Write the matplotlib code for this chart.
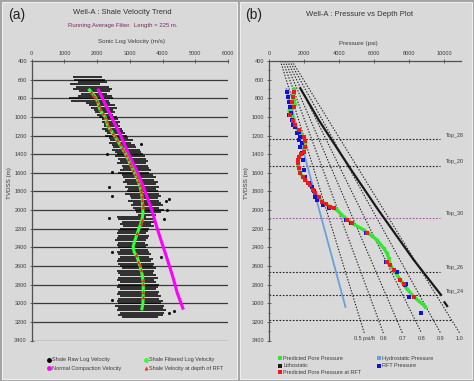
import numpy as np
import matplotlib
matplotlib.use('Agg')
import matplotlib.pyplot as plt
from matplotlib.lines import Line2D
from matplotlib.patches import Rectangle
from matplotlib.ticker import MultipleLocator

plt.rcParams['font.family'] = ['Liberation Sans', 'DejaVu Sans']

# ---------------- panel (a): shale velocity trend ----------------
# raw sonic log, read as horizontal spread per depth (m, m/s)
raw_depth = [575, 600, 625, 650, 675, 700, 725, 750, 775, 800, 825, 850, 875, 900, 925, 950, 975,
             1000, 1025, 1050, 1075, 1100, 1125, 1150, 1175, 1200, 1225, 1250, 1275, 1300, 1325,
             1350, 1375, 1400, 1425, 1450, 1475, 1500, 1525, 1550, 1575, 1600, 1625, 1650, 1675,
             1700, 1725, 1750, 1775, 1800, 1825, 1850, 1875, 1900, 1925, 1950, 1975, 2000, 2025,
             2050, 2075, 2100, 2125, 2150, 2175, 2200, 2225, 2250, 2275, 2300, 2325, 2350, 2375,
             2400, 2425, 2450, 2475, 2500, 2525, 2550, 2575, 2600, 2625, 2650, 2675, 2700, 2725,
             2750, 2775, 2800, 2825, 2850, 2875, 2900, 2925, 2950, 2975, 3000, 3025, 3050, 3075,
             3100, 3125, 3150]
raw_vmin = [1250, 1300, 1400, 1180, 1350, 1250, 1450, 1500, 1400, 1130, 1200, 1650, 1750, 1800, 1900,
            1950, 2000, 2050, 2150, 2150, 2200, 2200, 2150, 2250, 2300, 2250, 2350, 2400, 2350, 2450,
            2500, 2450, 2550, 2600, 2550, 2650, 2700, 2600, 2750, 2800, 2700, 2650, 2750, 2800, 2850,
            2800, 2900, 2850, 2950, 2900, 2850, 3000, 3050, 2950, 3100, 3050, 3100, 3150, 3200,
            3250, 2600, 2650, 2750, 2700, 2800, 2700, 2650, 2600, 2650, 2600, 2550, 2650, 2600,
            2650, 2700, 2600, 2650, 2700, 2650, 2600, 2650, 2700, 2750, 2600, 2650, 2700, 2650,
            2600, 2700, 2650, 2600, 2700, 2650, 2600, 2700, 2650, 2600, 2650, 2550, 2650, 2600,
            2700, 2650, 2750]
raw_vmax = [2150, 2250, 2300, 2100, 2350, 2450, 2380, 2300, 2450, 2500, 2350, 2400, 2550, 2600, 2500,
            2550, 2500, 2600, 2650, 2700, 2650, 2700, 2750, 2800, 2850, 2900, 2950, 3100, 3050, 3150,
            3200, 3300, 3350, 3400, 3450, 3500, 3550, 3500, 3550, 3600, 3650, 3600, 3700, 3800, 3750,
            3850, 3800, 3900, 3800, 3850, 3900, 3950, 3850, 3900, 3950, 4000, 3900, 4050, 3950,
            3800, 3500, 3700, 3800, 3650, 3750, 3600, 3550, 3500, 3600, 3550, 3500, 3450, 3550,
            3500, 3550, 3600, 3650, 3600, 3700, 3650, 3750, 3700, 3800, 3750, 3700, 3800, 3850,
            3750, 3800, 3900, 3850, 3800, 3900, 3850, 3950, 3900, 4000, 3950, 4050, 4000, 4100,
            4050, 4000, 3850]
# stray raw samples
out_depth = [1400, 1590, 1750, 1850, 1900, 2000, 2080, 2100, 2450, 2500, 2960, 3100, 3080, 1290, 1880]
out_vel = [2300, 2450, 2350, 2450, 4100, 4150, 2350, 4050, 2450, 3950, 2450, 4200, 4350, 3350, 4200]

filt_depth = [711, 783, 850, 926, 998, 1100, 1212, 1300, 1390, 1480, 1570, 1660, 1749, 1850, 1963,
              2035, 2106, 2180, 2246, 2320, 2390, 2450, 2500, 2607, 2700, 2784, 2900, 2997, 3060]
filt_vel = [1765, 1937, 2030, 2090, 2245, 2330, 2550, 2700, 2860, 2980, 3100, 3220, 3315, 3370, 3395,
            3400, 3370, 3300, 3230, 3160, 3100, 3130, 3220, 3315, 3380, 3410, 3410, 3400, 3370]

ncv_depth = [711, 850, 1033, 1200, 1390, 1570, 1749, 2000, 2213, 2460, 2700, 2890, 3053]
ncv_vel = [2040, 2230, 2480, 2720, 2950, 3200, 3410, 3670, 3850, 4080, 4300, 4450, 4620]

rftv_depth = [730, 760, 790, 830, 870, 920, 960, 1000, 1040, 1090, 1130, 1170, 1210, 1250, 1290, 1330,
              1370, 1410, 1450, 1490, 1530, 1570, 1610, 1650, 1690, 1730, 1770, 1810, 1850, 1890,
              1930, 1970, 2106, 2142, 2249, 2480, 2553, 2589, 2643, 2750, 2793, 2880, 2929]
rftv_vel = [1800, 1880, 1950, 2010, 2050, 2090, 2170, 2250, 2290, 2330, 2400, 2480, 2550, 2620, 2690,
            2760, 2830, 2890, 2940, 3000, 3050, 3100, 3150, 3210, 3260, 3300, 3330, 3350, 3370, 3385,
            3395, 3400, 3370, 3340, 3230, 3190, 3260, 3300, 3340, 3400, 3410, 3410, 3410]

# ---------------- panel (b): pressure vs depth ----------------
gradients = [0.5, 0.6, 0.7, 0.8, 0.9, 1.0]
grad_labels = ['0.5 psi/ft', '0.6', '0.7', '0.8', '0.9', '1.0']
grad_depth = [400, 3320]

tops_depth = [1237, 1523, 2081, 2660, 2911, 3179]
tops_label = ['Top_28', 'Top_20', 'Top_30', 'Top_26', 'Top_24', '']
tops_end = [9800, 9800, 9800, 9800, 9800, 10450]

litho_depth = [693, 1033, 1570, 2000, 2535, 2911, np.nan, 2990, 3030]
litho_psi = [1789, 2840, 4700, 6250, 8269, 9829, np.nan, 10030, 10180]

hydro_depth = [700, 3040]
hydro_psi = [1000, 4370]

ppp_depth = [700, 740, 780, 820, 860, 900, 930, 970, 1010, 1060, 1105, 1160, 1212, 1270, 1320, 1373,
             1427, 1498, 1560, 1606, 1677, 1731, 1820, 1910, 1963, 2000, 2071, 2142, 2213, 2280,
             2321, 2410, 2463, 2517, 2589, 2643, 2750, 2850, 2929, 3037]
ppp_psi = [1450, 1380, 1330, 1420, 1480, 1300, 1150, 1250, 1350, 1450, 1503, 1750, 1983, 2050, 2074,
           1983, 1697, 1657, 1700, 1789, 2074, 2360, 2646, 3029, 3503, 3886, 4269, 4743, 5411, 5900,
           6171, 6554, 6743, 6840, 6931, 7126, 7503, 7900, 8269, 8931]

pprft_depth = [729, 790, 837, 890, 979, 1040, 1087, 1140, 1212, 1260, 1320, 1373, 1400, 1427, 1460,
               1498, 1550, 1606, 1640, 1677, 1710, 1731, 1780, 1820, 1860, 1910, 1940, 1963, 1981,
               2106, 2142, 2249, 2553, 2589, 2643, 2750, 2793, 2929]
pprft_psi = [1446, 1380, 1314, 1420, 1217, 1350, 1503, 1700, 1983, 2040, 2074, 1983, 1850, 1697, 1660,
             1657, 1690, 1789, 1920, 2074, 2230, 2360, 2500, 2646, 2830, 3029, 3250, 3503, 3697,
             4457, 4743, 5600, 6743, 6931, 7126, 7503, 7697, 8269]

rft_depth = [729, 790, 837, 890, 961, 979, 1033, 1087, 1105, 1159, 1176, 1212, 1248, 1284, 1320, 1391,
             1463, 1570, 1642, 1713, 1749, 1800, 1856, 1892, 1945, 1981, 2106, 2142, 2249, 2553,
             2589, 2660, 2793, 2800, 2929, 3100]
rft_psi = [1029, 1100, 1160, 1217, 1257, 1126, 1314, 1371, 1503, 1697, 1600, 1789, 1697, 1886, 1789,
           1886, 1943, 1983, 2074, 2269, 2457, 2550, 2646, 2743, 3086, 3411, 4400, 4700, 5550, 6700,
           6900, 7314, 7800, 7750, 8017, 8703]

W, H = 474, 381
PANEL = '#d9d9d9'
TXT = '#3c3c3c'


def fx(px):
    return px / W


def fy(py):
    return 1 - py / H


fig = plt.figure(figsize=(W / 100, H / 100), dpi=100, facecolor='#a3a3a3')
fig.add_artist(Rectangle((fx(2), fy(379)), fx(235), 377 / H, transform=fig.transFigure,
                         facecolor=PANEL, edgecolor='#efefef', lw=0.8, zorder=0))
fig.add_artist(Rectangle((fx(240), fy(379)), fx(232), 377 / H, transform=fig.transFigure,
                         facecolor=PANEL, edgecolor='#efefef', lw=0.8, zorder=0))

ax1 = fig.add_axes([fx(31.7), fy(340.5), fx(228 - 31.7), 279.5 / H])
ax2 = fig.add_axes([fx(269), fy(340.5), fx(192.5), 279.5 / H])

for ax in (ax1, ax2):
    ax.set_facecolor('none')
    ax.set_ylim(3400, 400)
    ax.yaxis.set_major_locator(MultipleLocator(200))
    ax.xaxis.tick_top()
    for s in ('right', 'bottom'):
        ax.spines[s].set_visible(False)
    for s in ('top', 'left'):
        ax.spines[s].set_color('#505050')
        ax.spines[s].set_linewidth(0.9)
    ax.tick_params(which='both', direction='inout', colors='#505050', labelcolor=TXT,
                   labelsize=4, width=0.6)
    ax.tick_params(which='major', length=3, pad=2)

# panel (a)
ax1.set_xlim(0, 6000)
ax1.xaxis.set_major_locator(MultipleLocator(1000))
for d in range(600, 3401, 200):
    ax1.axhline(d, color='#3a3a3a', lw=0.9, zorder=1)
ax1.hlines(raw_depth, raw_vmin, raw_vmax, color='black', lw=1.1, zorder=2)
ax1.plot(out_vel, out_depth, ls='none', marker='s', ms=1, color='black', zorder=2)
ax1.plot(ncv_vel, ncv_depth, color='#ff00ff', lw=2.2, zorder=3)
ax1.plot(filt_vel, filt_depth, color='#33ff33', lw=2.2, zorder=4)
ax1.plot(rftv_vel, rftv_depth, ls='none', marker='^', ms=2.6, color='#ff2020', mew=0, zorder=5)

# panel (b)
ax2.set_xlim(0, 11000)
ax2.xaxis.set_major_locator(MultipleLocator(2000))
ax2.yaxis.set_minor_locator(MultipleLocator(100))
ax2.tick_params(which='minor', length=1.5)
for g, lab in zip(gradients, grad_labels):
    p = [g * d * 3.2808 for d in grad_depth]
    ax2.plot(p, grad_depth, color='#222222', lw=0.8, ls=(0, (1.2, 1.4)), zorder=1)
    ax2.text(p[1], 3375, lab, fontsize=4, color=TXT, ha='center', va='center')
for d, lab, e in zip(tops_depth, tops_label, tops_end):
    c = '#c040c0' if lab == 'Top_30' else '#222222'
    ax2.plot([0, e], [d, d], color=c, lw=0.8, ls=(0, (1.5, 1.5)), zorder=1)
    ax2.text(10630, d - 40, lab, fontsize=4, color=TXT, ha='center', va='center')
ax2.plot(hydro_psi, hydro_depth, color='#6a9fd8', lw=1.3, zorder=2)
ax2.plot(litho_psi, litho_depth, color='#1a1a1a', lw=1.6, zorder=2)
ax2.plot(ppp_psi, ppp_depth, color='#33e633', lw=2.4, marker='s', ms=2, zorder=3)
ax2.plot(rft_psi, rft_depth, ls='none', marker='s', ms=3, color='#1010e0', mew=0, zorder=4)
ax2.plot(pprft_psi, pprft_depth, ls='none', marker='s', ms=3, color='#f01818', mew=0, zorder=5)

# titles and labels
fig.text(fx(8), fy(15), '(a)', fontsize=10, color='#222222', ha='left', va='center')
fig.text(fx(122), fy(13), 'Well-A : Shale Velocity Trend', fontsize=5.5, color='#333333',
         ha='center', va='center')
fig.text(fx(123), fy(25), 'Running Average Filter.  Length = 225 m.', fontsize=4.3,
         color='#7b2d5b', ha='center', va='center')
fig.text(fx(131), fy(42), 'Sonic Log Velocity (m/s)', fontsize=4.5, color=TXT,
         ha='center', va='center')
fig.text(fx(9), fy(183), 'TVDSS (m)', fontsize=4.5, color=TXT, rotation=90,
         ha='center', va='center')

fig.text(fx(245), fy(15), '(b)', fontsize=10, color='#222222', ha='left', va='center')
fig.text(fx(360), fy(14), 'Well-A : Pressure vs Depth Plot', fontsize=5.5, color='#333333',
         ha='center', va='center')
fig.text(fx(358), fy(43), 'Pressure (psi)', fontsize=4.5, color=TXT, ha='center', va='center')
fig.text(fx(247), fy(183), 'TVDSS (m)', fontsize=4.5, color=TXT, rotation=90,
         ha='center', va='center')


def legend_item(px, py, marker, color, text, ms=3.5):
    fig.add_artist(Line2D([fx(px)], [fy(py)], transform=fig.transFigure, marker=marker,
                          color=color, ms=ms, mew=0, ls='none'))
    fig.text(fx(px + 3), fy(py), text, fontsize=4, color=TXT, ha='left', va='center')


legend_item(49, 360, 'o', 'black', 'Shale Raw Log Velocity')
legend_item(145.7, 360, 'o', '#33ff33', 'Shale Filtered Log Velocity')
legend_item(49, 368.3, 'o', '#ff00ff', 'Normal Compaction Velocity')
legend_item(145.7, 368.3, '^', '#ff2020', 'Shale Velocity at depth of RFT', ms=2.8)

legend_item(280, 358.3, 's', '#33e633', 'Predicted Pore Pressure')
legend_item(280, 365.7, 's', '#1a1a1a', 'Lithostatic')
legend_item(280, 372.3, 's', '#f01818', 'Predicted Pore Pressure at RFT')
legend_item(378.7, 358.3, 's', '#6a9fd8', 'Hydrostatic Pressure')
legend_item(378.7, 365.7, 's', '#1010e0', 'RFT Pressure')

fig.savefig('out.png', dpi=100, facecolor=fig.get_facecolor())
